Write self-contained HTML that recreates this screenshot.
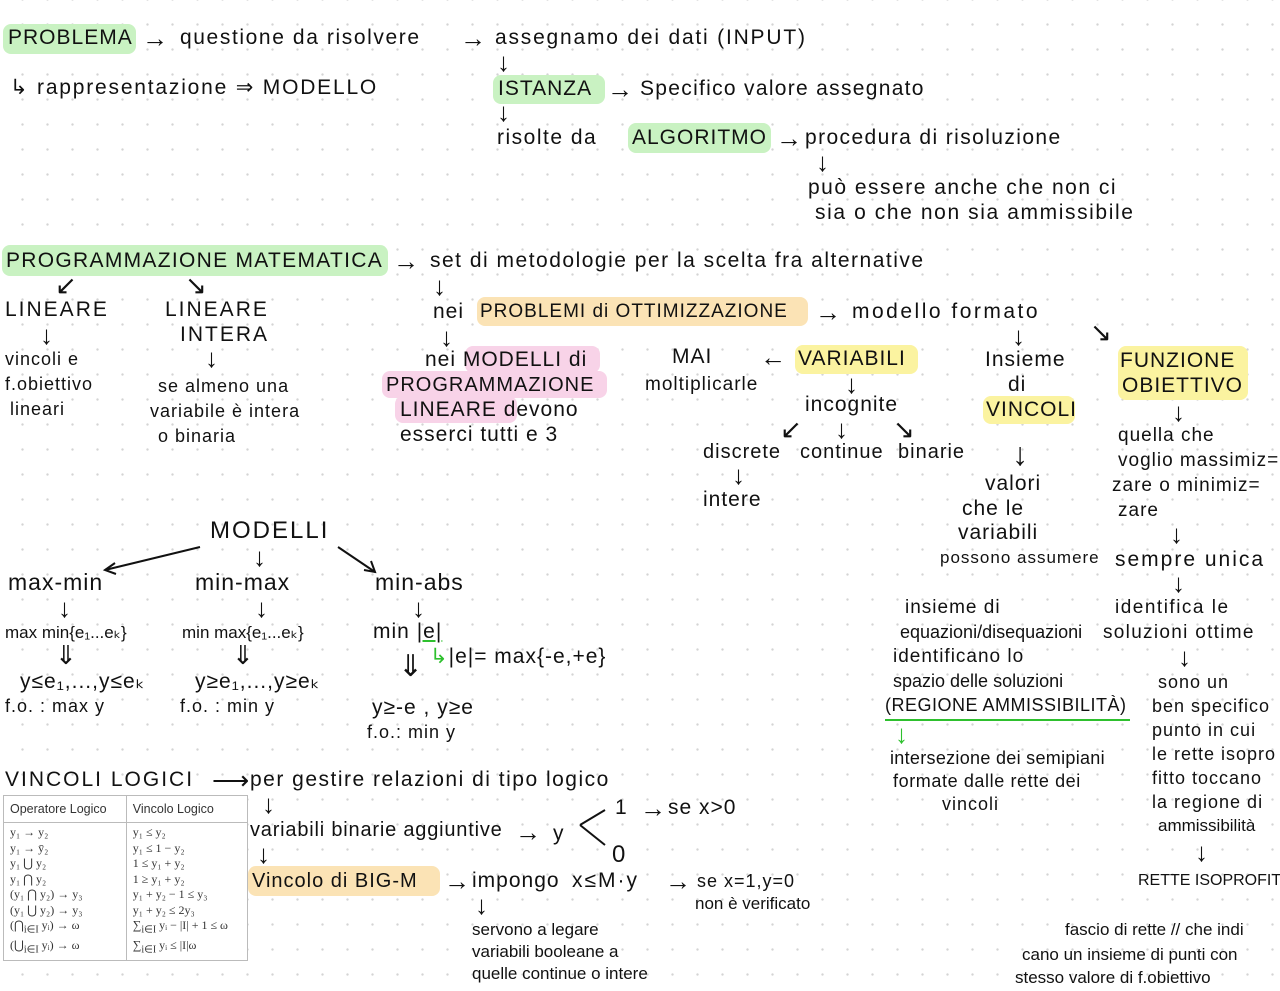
<!DOCTYPE html>
<html><head><meta charset="utf-8"><style>
body{margin:0;width:1280px;height:991px;overflow:hidden;background:#fff;
background-image:radial-gradient(circle,#d4d4d4 1px,transparent 1.4px);background-size:25px 25px;background-position:10px 12px;
font-family:"Liberation Sans",sans-serif;color:#111;position:relative}
.t{position:absolute;font-size:21px;white-space:nowrap;line-height:24px;letter-spacing:1px}
.a{position:absolute;font-size:26px;line-height:24px}
.h{position:absolute;border-radius:8px}
.g{background:#c9f2c2}.o{background:#fbe3b5}.y{background:#fbf3a0}.p{background:#f8d3e8}
table{position:absolute;left:3px;top:795px;width:245px;height:165px;border-collapse:collapse;font-size:12px;color:#333;background:#fff;border:1px solid #bbb}
td{border-right:1px solid #bbb;vertical-align:top;padding:2px 6px;line-height:15.5px;font-family:"Liberation Serif",serif}
th{font-weight:normal;text-align:left;padding:6px;border-bottom:1px solid #bbb;border-right:1px solid #bbb;font-size:12.5px}
</style></head><body>
<div class="h g" style="left:3px;top:24px;width:133px;height:30px"></div>
<div class="h g" style="left:493px;top:75px;width:112px;height:29px"></div>
<div class="h g" style="left:628px;top:123px;width:143px;height:30px"></div>
<div class="h g" style="left:2px;top:245px;width:386px;height:31px"></div>
<div class="h o" style="left:477px;top:297px;width:331px;height:29px"></div>
<div class="h p" style="left:465px;top:346px;width:135px;height:27px"></div>
<div class="h p" style="left:382px;top:371px;width:225px;height:27px"></div>
<div class="h p" style="left:395px;top:396px;width:122px;height:27px"></div>
<div class="h y" style="left:795px;top:345px;width:123px;height:29px"></div>
<div class="h y" style="left:983px;top:396px;width:92px;height:28px"></div>
<div class="h y" style="left:1118px;top:346px;width:130px;height:54px"></div>
<div class="h o" style="left:248px;top:866px;width:192px;height:30px"></div>

<div class="t" style="left:8px;top:26px">PROBLEMA</div>
<div class="a" style="left:142px;top:26px">→</div>
<div class="t" style="left:180px;top:26px;letter-spacing:1.6px">questione da risolvere</div>
<div class="a" style="left:460px;top:26px">→</div>
<div class="t" style="left:495px;top:26px;letter-spacing:1.8px">assegnamo dei dati (INPUT)</div>
<div class="t" style="left:10px;top:76px;letter-spacing:1.8px">↳ rappresentazione ⇒ MODELLO</div>
<div class="a" style="left:497px;top:50px">↓</div>
<div class="t" style="left:498px;top:77px">ISTANZA</div>
<div class="a" style="left:607px;top:77px">→</div>
<div class="t" style="left:640px;top:77px;letter-spacing:1.3px">Specifico valore assegnato</div>
<div class="a" style="left:497px;top:100px">↓</div>
<div class="t" style="left:497px;top:126px;letter-spacing:1.5px">risolte da</div>
<div class="t" style="left:632px;top:126px">ALGORITMO</div>
<div class="a" style="left:776px;top:126px">→</div>
<div class="t" style="left:805px;top:126px;letter-spacing:1.4px">procedura di risoluzione</div>
<div class="a" style="left:816px;top:150px">↓</div>
<div class="t" style="left:808px;top:176px;letter-spacing:1.5px">può essere anche che non ci</div>
<div class="t" style="left:815px;top:201px;letter-spacing:1.6px">sia o che non sia ammissibile</div>

<div class="t" style="left:6px;top:249px;letter-spacing:1.3px">PROGRAMMAZIONE MATEMATICA</div>
<div class="a" style="left:393px;top:249px">→</div>
<div class="t" style="left:430px;top:249px;letter-spacing:1.5px">set di metodologie per la scelta fra alternative</div>
<div class="a" style="left:433px;top:274px">↓</div>
<div class="a" style="left:55px;top:273px">↙</div><div class="a" style="left:185px;top:273px">↘</div>
<div class="t" style="left:5px;top:298px;letter-spacing:2px">LINEARE</div>
<div class="t" style="left:165px;top:298px;letter-spacing:2px">LINEARE</div>
<div class="t" style="left:180px;top:323px;letter-spacing:2px">INTERA</div>
<div class="a" style="left:40px;top:323px">↓</div><div class="a" style="left:205px;top:346px">↓</div>
<div class="t" style="left:433px;top:300px">nei</div>
<div class="t" style="left:480px;top:300px;font-size:19px">PROBLEMI di OTTIMIZZAZIONE</div>
<div class="a" style="left:815px;top:300px">→</div>
<div class="t" style="left:852px;top:300px;letter-spacing:2.5px">modello formato</div>
<div class="a" style="left:440px;top:325px">↓</div>
<div class="t" style="left:5px;top:347px;font-size:18px">vincoli e</div>
<div class="t" style="left:5px;top:372px;font-size:18px">f.obiettivo</div>
<div class="t" style="left:10px;top:397px;font-size:18px">lineari</div>
<div class="t" style="left:158px;top:374px;font-size:18px">se almeno una</div>
<div class="t" style="left:150px;top:399px;font-size:18px">variabile è intera</div>
<div class="t" style="left:158px;top:424px;font-size:18px">o binaria</div>
<div class="t" style="left:425px;top:348px">nei MODELLI di</div>
<div class="t" style="left:386px;top:373px;font-size:20px">PROGRAMMAZIONE</div>
<div class="t" style="left:400px;top:398px">LINEARE devono</div>
<div class="t" style="left:400px;top:423px">esserci tutti e 3</div>
<div class="t" style="left:672px;top:345px">MAI</div>
<div class="a" style="left:760px;top:345px">←</div>
<div class="t" style="left:645px;top:373px;font-size:19px">moltiplicarle</div>
<div class="t" style="left:798px;top:347px">VARIABILI</div>
<div class="a" style="left:845px;top:372px">↓</div>
<div class="t" style="left:805px;top:393px">incognite</div>
<div class="a" style="left:780px;top:417px">↙</div><div class="a" style="left:835px;top:417px">↓</div><div class="a" style="left:893px;top:417px">↘</div>
<div class="t" style="left:703px;top:440px;font-size:20px">discrete</div>
<div class="t" style="left:800px;top:440px;font-size:20px">continue</div>
<div class="t" style="left:898px;top:440px;font-size:20px">binarie</div>
<div class="a" style="left:732px;top:463px">↓</div>
<div class="t" style="left:703px;top:488px">intere</div>
<div class="a" style="left:1012px;top:324px">↓</div><div class="a" style="left:1090px;top:320px">↘</div>
<div class="t" style="left:985px;top:348px">Insieme</div>
<div class="t" style="left:1008px;top:373px">di</div>
<div class="t" style="left:986px;top:398px">VINCOLI</div>
<div class="t" style="left:1120px;top:349px">FUNZIONE</div>
<div class="t" style="left:1122px;top:374px">OBIETTIVO</div>
<div class="a" style="left:1012px;top:442px;font-size:32px">↓</div>
<div class="t" style="left:985px;top:472px">valori</div>
<div class="t" style="left:962px;top:497px">che le</div>
<div class="t" style="left:958px;top:521px">variabili</div>
<div class="t" style="left:940px;top:546px;font-size:17px">possono assumere</div>
<div class="a" style="left:1172px;top:400px">↓</div>
<div class="t" style="left:1118px;top:424px;font-size:19px">quella che</div>
<div class="t" style="left:1118px;top:449px;font-size:19px">voglio massimiz=</div>
<div class="t" style="left:1112px;top:474px;font-size:19px">zare o minimiz=</div>
<div class="t" style="left:1118px;top:499px;font-size:19px">zare</div>
<div class="a" style="left:1170px;top:522px">↓</div>
<div class="t" style="left:1115px;top:548px;letter-spacing:2px">sempre unica</div>
<div class="a" style="left:1172px;top:571px">↓</div>
<div class="t" style="left:1115px;top:596px;font-size:19px;letter-spacing:1.5px">identifica le</div>
<div class="t" style="left:1103px;top:621px;font-size:19px;letter-spacing:1.3px">soluzioni ottime</div>
<div class="a" style="left:1178px;top:645px">↓</div>
<div class="t" style="left:1158px;top:670px;font-size:18px">sono un</div>
<div class="t" style="left:1152px;top:694px;font-size:18px">ben specifico</div>
<div class="t" style="left:1152px;top:718px;font-size:18px">punto in cui</div>
<div class="t" style="left:1152px;top:742px;font-size:18px">le rette isopro</div>
<div class="t" style="left:1152px;top:766px;font-size:18px">fitto toccano</div>
<div class="t" style="left:1152px;top:790px;font-size:18px">la regione di</div>
<div class="t" style="left:1158px;top:814px;font-size:17px;letter-spacing:0">ammissibilità</div>
<div class="a" style="left:1195px;top:840px">↓</div>
<div class="t" style="left:1138px;top:869px;font-size:16px;letter-spacing:0">RETTE ISOPROFITTO</div>
<div class="t" style="left:1065px;top:918px;font-size:17px;letter-spacing:0">fascio di rette // che indi</div>
<div class="t" style="left:1022px;top:943px;font-size:17px;letter-spacing:0">cano un insieme di punti con</div>
<div class="t" style="left:1015px;top:966px;font-size:17px;letter-spacing:0">stesso valore di f.obiettivo</div>
<div class="t" style="left:905px;top:596px;font-size:19px">insieme di</div>
<div class="t" style="left:900px;top:620px;font-size:18px;letter-spacing:0">equazioni/disequazioni</div>
<div class="t" style="left:893px;top:645px;font-size:19px">identificano lo</div>
<div class="t" style="left:893px;top:669px;font-size:18px;letter-spacing:0">spazio delle soluzioni</div>
<div class="t" style="left:885px;top:693px;font-size:18px;letter-spacing:0.5px">(REGIONE AMMISSIBILITÀ)</div>
<div style="position:absolute;left:885px;top:719px;width:245px;height:2px;background:#2ec02e"></div>
<div class="a" style="left:895px;top:722px;color:#2ec02e">↓</div>
<div class="t" style="left:890px;top:746px;font-size:18px;letter-spacing:0.3px">intersezione dei semipiani</div>
<div class="t" style="left:893px;top:769px;font-size:18px;letter-spacing:0.6px">formate dalle rette dei</div>
<div class="t" style="left:942px;top:792px;font-size:18px">vincoli</div>

<div class="t" style="left:210px;top:519px;font-size:24px;letter-spacing:2px">MODELLI</div>
<svg style="position:absolute;left:0;top:0" width="1280" height="991">
<g stroke="#111" stroke-width="2" fill="none">
<line x1="200" y1="547" x2="105" y2="570"/><polyline points="115,563 105,570 116,574"/>
<line x1="338" y1="547" x2="375" y2="572"/><polyline points="364,570 375,572 371,561"/>
<line x1="580" y1="825" x2="605" y2="810"/><line x1="580" y1="825" x2="605" y2="845"/>
</g></svg>
<div class="a" style="left:253px;top:545px">↓</div>
<div class="t" style="left:8px;top:570px;font-size:23px">max-min</div>
<div class="t" style="left:195px;top:570px;font-size:23px">min-max</div>
<div class="t" style="left:375px;top:570px;font-size:23px">min-abs</div>
<div class="a" style="left:58px;top:596px">↓</div><div class="a" style="left:255px;top:596px">↓</div><div class="a" style="left:412px;top:596px">↓</div>
<div class="t" style="left:5px;top:621px;font-size:17px;letter-spacing:0">max min{e₁...eₖ}</div>
<div class="t" style="left:182px;top:621px;font-size:17px;letter-spacing:0">min max{e₁...eₖ}</div>
<div class="t" style="left:373px;top:620px">min <span style="text-decoration:underline;text-decoration-color:#2ec02e">|e|</span></div>
<div class="t" style="left:430px;top:645px"><span style="color:#2ec02e">↳</span>|e|= max{-e,+e}</div>
<div class="a" style="left:55px;top:643px">⇓</div><div class="a" style="left:232px;top:643px">⇓</div><div class="a" style="left:398px;top:655px;font-size:30px">⇓</div>
<div class="t" style="left:20px;top:670px">y≤e₁,...,y≤eₖ</div>
<div class="t" style="left:5px;top:694px;font-size:18px">f.o. : max y</div>
<div class="t" style="left:195px;top:670px">y≥e₁,...,y≥eₖ</div>
<div class="t" style="left:180px;top:694px;font-size:18px">f.o. : min y</div>
<div class="t" style="left:372px;top:696px">y≥-e , y≥e</div>
<div class="t" style="left:367px;top:720px;font-size:18px">f.o.: min y</div>

<div class="t" style="left:5px;top:768px;letter-spacing:2px">VINCOLI LOGICI</div>
<div class="a" style="left:212px;top:768px">⟶</div>
<div class="t" style="left:250px;top:768px;letter-spacing:1.5px">per gestire relazioni di tipo logico</div>
<div class="a" style="left:262px;top:792px">↓</div>
<div class="t" style="left:250px;top:818px;font-size:20px;letter-spacing:0.8px">variabili binarie aggiuntive</div>
<div class="a" style="left:515px;top:820px">→</div>
<div class="t" style="left:553px;top:822px">y</div>
<div class="t" style="left:615px;top:796px">1</div>
<div class="a" style="left:640px;top:796px">→</div>
<div class="t" style="left:668px;top:796px">se x&gt;0</div>
<div class="t" style="left:612px;top:843px;font-size:24px">0</div>
<div class="a" style="left:257px;top:842px">↓</div>
<div class="t" style="left:252px;top:869px;font-size:20px">Vincolo di BIG-M</div>
<div class="a" style="left:444px;top:869px">→</div>
<div class="t" style="left:472px;top:869px">impongo</div>
<div class="t" style="left:572px;top:869px;letter-spacing:2px">x≤M·y</div>
<div class="a" style="left:665px;top:869px">→</div>
<div class="t" style="left:697px;top:869px;font-size:18px">se x=1,y=0</div>
<div class="t" style="left:695px;top:892px;font-size:17px;letter-spacing:0">non è verificato</div>
<div class="a" style="left:475px;top:893px">↓</div>
<div class="t" style="left:472px;top:918px;font-size:17px;letter-spacing:0">servono a legare</div>
<div class="t" style="left:472px;top:940px;font-size:17px;letter-spacing:0">variabili booleane a</div>
<div class="t" style="left:472px;top:962px;font-size:17px;letter-spacing:0">quelle continue o intere</div>

<table><tr><th>Operatore Logico</th><th>Vincolo Logico</th></tr>
<tr><td>y₁ → y₂<br>y₁ → ȳ₂<br>y₁ ⋃ y₂<br>y₁ ⋂ y₂<br>(y₁ ⋂ y₂) → y₃<br>(y₁ ⋃ y₂) → y₃<br>(⋂<sub>i∈I</sub> yᵢ) → ω<br>(⋃<sub>i∈I</sub> yᵢ) → ω</td>
<td>y₁ ≤ y₂<br>y₁ ≤ 1 − y₂<br>1 ≤ y₁ + y₂<br>1 ≥ y₁ + y₂<br>y₁ + y₂ − 1 ≤ y₃<br>y₁ + y₂ ≤ 2y₃<br>∑<sub>i∈I</sub> yᵢ − |I| + 1 ≤ ω<br>∑<sub>i∈I</sub> yᵢ ≤ |I|ω</td></tr></table>
</body></html>
